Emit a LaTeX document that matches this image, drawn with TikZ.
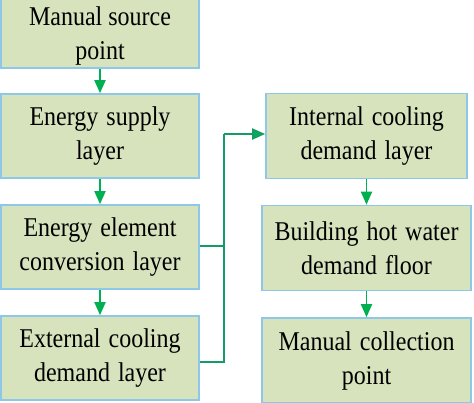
\documentclass[tikz,border=0pt]{standalone}
\usepackage{fontspec}
\usepackage{graphicx}
\setmainfont{Liberation Serif}
\usetikzlibrary{arrows.meta}
\definecolor{fillcol}{RGB}{214,227,188}
\definecolor{bordercol}{RGB}{142,200,232}
\definecolor{arrowcol}{RGB}{0,176,80}
\definecolor{linkcol}{RGB}{20,155,105}
\newcommand\vst[1]{\scalebox{1}[1.13]{#1}}
\begin{document}
\begin{tikzpicture}[x=1pt,y=-1pt,
  box/.style={draw=bordercol, fill=fillcol, line width=1.6pt, align=center,
    inner sep=0pt, font=\fontsize{24}{34}\selectfont},
  lbox/.style={box, text width=198pt, minimum height=84pt},
  rbox/.style={box, text width=209pt, minimum height=85pt},
  flow/.style={draw=arrowcol, line width=1.8pt, -{Triangle[length=13pt,width=11pt]}},
  link/.style={draw=linkcol, line width=1.8pt},
  linkarrow/.style={link, -{Triangle[length=13pt,width=11pt,fill=arrowcol]}}]
\useasboundingbox (0,0) rectangle (474,402);
\node[lbox, minimum height=78pt] (b1) at (100,29) {};
\node[font=\fontsize{24}{34}\selectfont, align=center, inner sep=0pt] (t1) at (100,36) {\vst{Manual source}\\\vst{point}};
\node[lbox] (b2) at (100,136) {\vst{Energy supply}\\\vst{layer}};
\node[lbox] (b3) at (100,247) {\vst{Energy element}\\\vst{conversion layer}};
\node[lbox] (b4) at (100,358) {\vst{External cooling}\\\vst{demand layer}};
\node[box, text width=201pt, minimum height=85pt] (r1) at (366.5,136) {\vst{Internal cooling}\\\vst{demand layer}};
\node[rbox] (r2) at (366.5,248) {\vst{Building hot water}\\\vst{demand floor}};
\node[rbox] (r3) at (366.5,360.5) {\vst{Manual collection}\\\vst{point}};
\draw[flow] (b1) -- (b2);
\draw[flow] (b2) -- (b3);
\draw[flow] (b3) -- (b4);
\draw[flow] (r1) -- (r2);
\draw[flow] (r2) -- (r3);
\coordinate (j3) at (224,246);
\coordinate (j4) at (224,362);
\coordinate (jt) at (224,134);
\draw[link] (b3.east |- j3) -- (j3);
\draw[link] (b4.east |- j4) -- (j4) -- (jt);
\draw[linkarrow] (jt) -- (r1.west |- jt);
\end{tikzpicture}
\end{document}
